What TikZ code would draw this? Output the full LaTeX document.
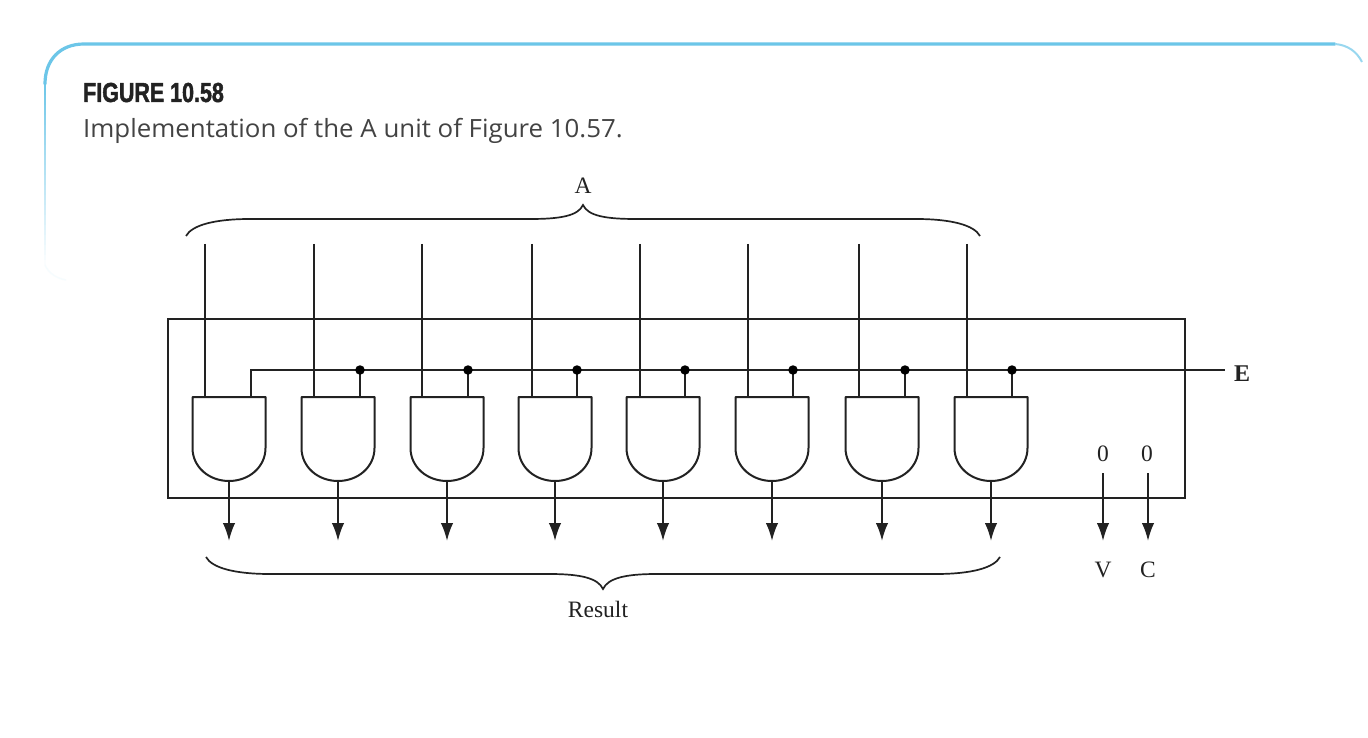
\documentclass[tikz,border=0pt]{standalone}
\usepackage{fontspec}
\usetikzlibrary{arrows.meta,calc}
\setmainfont{Liberation Serif}
\newfontfamily\titlefont[FakeStretch=0.78,FakeBold=1.6]{Liberation Sans}
\newfontfamily\capfont[FakeStretch=1.03]{Open Sans}
\definecolor{panelblue}{HTML}{6CC6E8}
\definecolor{ink}{HTML}{222222}
\tikzset{
  wire/.style={draw=ink,line width=2pt},
  outwire/.style={wire,-{Latex[length=18pt,width=12.5pt]}},
  gatebody/.style={wire,line join=round,fill=white},
  dot/.style={circle,fill=black,inner sep=0pt,minimum size=9.5pt},
  lbl/.style={font=\fontsize{23.5}{24}\selectfont,text=ink,inner sep=0pt},
  brace/.style={draw=ink,line width=1.7pt},
  rim/.style={line width=3.2pt,line cap=round}
}
\begin{document}
\begin{tikzpicture}[x=1pt,y=-1pt]
\useasboundingbox (0,0) rectangle (1368,738);
\fill[white] (0,0) rectangle (1368,738);
% panel rim
\draw[rim,draw=panelblue] (45,84) .. controls (45,60) and (60,44) .. (84,44) -- (1335,44);
\foreach \i in {0,...,37}{
  \pgfmathsetmacro{\ya}{80+5*\i}
  \pgfmathsetmacro{\yb}{85+5*\i}
  \pgfmathsetmacro{\mixv}{max(0,100-2.7*\i)}
  \draw[line width=2.4pt,draw=panelblue!\mixv!white] (45,\ya) -- (45,\yb);
}
\draw[line width=1.4pt,draw=panelblue!6!white] (45,265) .. controls (48,272) and (55,278) .. (66,280);
\draw[line width=2pt,draw=panelblue!70!white] (1335,44) .. controls (1348,45) and (1357,52) .. (1362,62);
% caption
\node[anchor=base west,inner sep=0pt,font=\titlefont\bfseries\fontsize{27.5}{28}\selectfont,text=ink] (figtitle) at (83,102) {FIGURE 10.58};
\node[anchor=base west,inner sep=0pt,font=\capfont\fontsize{25.1}{26}\selectfont,text=ink!85!white] (figcap) at (83,138) {Implementation of the A unit of Figure 10.57.};
% enclosing box
\node[draw=ink,line width=2pt,minimum width=1017pt,minimum height=179pt,inner sep=0pt,anchor=north west] (unit) at (167,318) {};
% enable line
\coordinate (enL) at (251,370);
\coordinate (enR) at (1225,370);
\coordinate (enG) at (251,397);
\draw[wire] (enG) -- (enL) -- (enR);
\node[lbl,anchor=center,font=\bfseries\fontsize{24}{24}\selectfont] (Elab) at (1242,374) {E};
% gates
\foreach \n/\c/\a/\e in {1/229/205/251,2/338/314/360,3/447/422/468,4/555/532/577,5/663/640/685,6/772/748/793,7/882/859/905,8/991/967/1012}{
  \coordinate (atop\n) at (\a,244);
  \coordinate (ain\n) at (\a,397);
  \coordinate (gout\n) at (\c,481);
  \coordinate (res\n) at (\c,541);
  \coordinate (ein\n) at (\e,397);
  \coordinate (etap\n) at (\e,370);
  \draw[wire] (atop\n) -- (ain\n);
  \draw[gatebody] (\c-36.5,397) -- (\c+36.5,397) -- (\c+36.5,448)
     .. controls (\c+36.5,467) and (\c+20,481) .. (gout\n)
     .. controls (\c-20,481) and (\c-36.5,467) .. (\c-36.5,448) -- cycle;
  \draw[outwire] (gout\n) -- (res\n);
}
\foreach \n in {2,...,8}{
  \draw[wire] (etap\n) -- (ein\n);
  \node[dot] (tap\n) at (etap\n) {};
}
% V and C
\node[lbl] (zeroV) at (1103,454) {0};
\node[lbl] (zeroC) at (1147,454) {0};
\node[lbl] (labV) at (1103,570) {V};
\node[lbl] (labC) at (1148,570) {C};
\coordinate (vtop) at (1103,473);
\coordinate (ctop) at (1148,473);
\draw[outwire] (vtop) -- (labV.north |- 0,541);
\draw[outwire] (ctop) -- (labC.north |- 0,541);
% braces
\draw[brace] (186,236) .. controls (192,225) and (215,219) .. (250,219) -- (530,219)
   .. controls (560,219) and (578,216) .. (583,205)
   .. controls (588,216) and (606,219) .. (636,219) -- (916,219)
   .. controls (951,219) and (974,225) .. (980,236);
\draw[brace] (206,557) .. controls (212,568) and (235,574) .. (270,574) -- (550,574)
   .. controls (580,574) and (598,578) .. (603,589)
   .. controls (608,578) and (626,574) .. (656,574) -- (936,574)
   .. controls (971,574) and (994,568) .. (1000,557);
\node[lbl] (labA) at (583,186) {A};
\node[lbl] (labResult) at (598,609) {Result};
\end{tikzpicture}
\end{document}
